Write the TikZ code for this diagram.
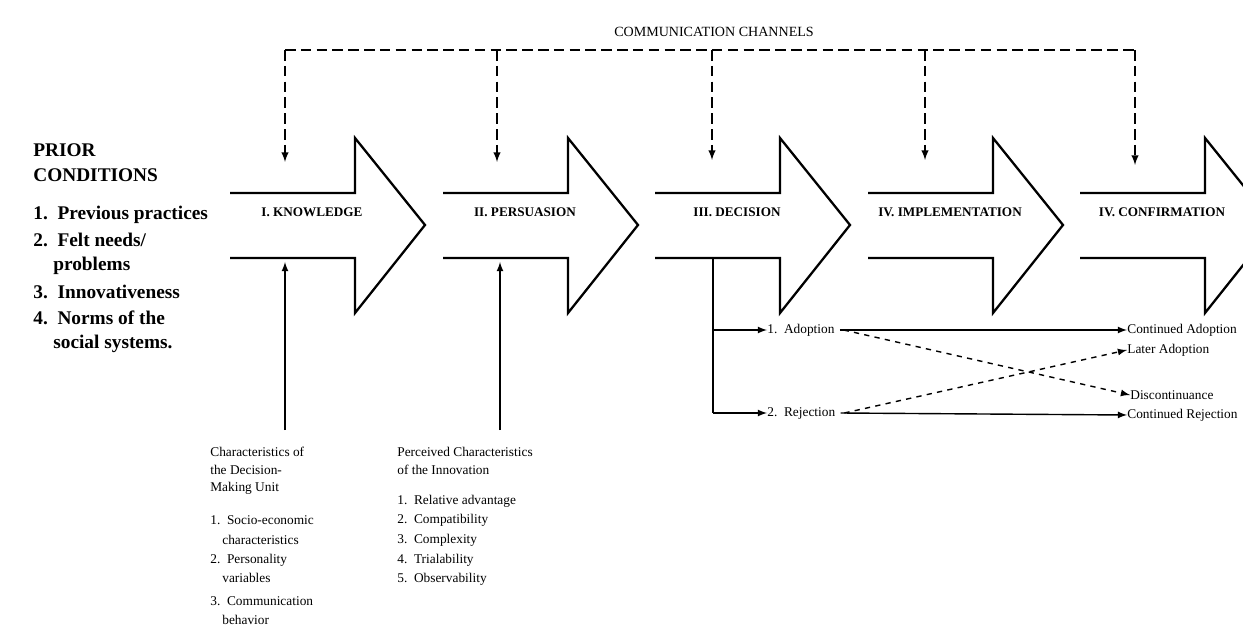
\documentclass[tikz,border=0pt]{standalone}
\usepackage{fontspec}
\setmainfont{Liberation Serif}
\begin{document}
\begin{tikzpicture}[x=0.02cm,y=-0.02cm,
  blk/.style={line width=1.3pt,line join=miter},
  dsh/.style={dashed,line width=0.9pt,dash pattern=on 6pt off 3pt},
  ar/.style={-latex,line width=0.8pt},
  lbl/.style={font=\fontsize{7.5}{8}\selectfont\bfseries,inner sep=0},
  sm/.style={font=\fontsize{7.6}{9}\selectfont,anchor=west,inner sep=0},
  big/.style={font=\fontsize{11}{12}\selectfont\bfseries,anchor=west,inner sep=0}]
\useasboundingbox (0,0) rectangle (1243,638);
\clip (0,0) rectangle (1243,638);
\node[big] at (33,150) {PRIOR};
\node[big] at (33,175) {CONDITIONS};
\node[big] at (33,215) {1.\ \ Previous practices};
\node[big] at (33,240) {2.\ \ Felt needs/};
\node[big] at (53,266) {problems};
\node[big] at (33,292) {3.\ \ Innovativeness};
\node[big] at (33,318) {4.\ \ Norms of the};
\node[big] at (53,344) {social systems.};
\fill[white] (211,200) rectangle (229,230);
\foreach \x/\t/\n in {230/I. KNOWLEDGE/k,443/II. PERSUASION/p,655/III. DECISION/d,868/IV. IMPLEMENTATION/i,1080/IV. CONFIRMATION/c}{
  \draw[blk] (\x,193)--(\x+125,193)--(\x+125,138)--(\x+195,225)--(\x+125,313)--(\x+125,258)--(\x,258);
  \node[lbl] (\n) at (\x+82,212) {\t};
}
\node[font=\fontsize{8}{9}\selectfont,inner sep=0] (cc) at (714,32) {COMMUNICATION CHANNELS};
\coordinate (t1) at (285,50); \coordinate (t5) at (1135,50);
\draw[dsh] (t1)--(t5);
\foreach \x/\y in {285/162,497/162,712/160,925/160,1135/165}{
  \draw[dsh,-latex] (\x,50)--(\x,\y);
}
\coordinate (u1) at (285,430); \coordinate (u2) at (500,430);
\draw[ar] (u1)--(285,262);
\draw[ar] (u2)--(500,262);
\node[sm] at (210,452) {Characteristics of};
\node[sm] at (210,470) {the Decision-};
\node[sm] at (210,488) {Making Unit};
\node[sm] at (210,520) {1.\ \ Socio-economic};
\node[sm] at (222,540) {characteristics};
\node[sm] at (210,560) {2.\ \ Personality};
\node[sm] at (222,578) {variables};
\node[sm] at (210,601) {3.\ \ Communication};
\node[sm] at (222,620) {behavior};
\node[sm] at (397,452) {Perceived Characteristics};
\node[sm] at (397,470) {of the Innovation};
\node[sm] at (397,501) {1.\ \ Relative advantage};
\node[sm] at (397,520) {2.\ \ Compatibility};
\node[sm] at (397,540) {3.\ \ Complexity};
\node[sm] at (397,560) {4.\ \ Trialability};
\node[sm] at (397,579) {5.\ \ Observability};
\coordinate (b0) at (713,258); \coordinate (b1) at (713,330); \coordinate (b2) at (713,413);
\draw[line width=0.8pt] (b0)--(b2);
\node[sm] (ad) at (767,330) {1.\ \ Adoption};
\node[sm] (rj) at (767,413) {2.\ \ Rejection};
\draw[ar] (b1)--(ad.west);
\draw[ar] (b2)--(rj.west);
\node[sm] (ca) at (1127,330) {Continued Adoption};
\node[sm] (la) at (1127,350) {Later Adoption};
\node[sm] (dc) at (1130,395) {Discontinuance};
\node[sm] (cr) at (1127,415) {Continued Rejection};
\draw[ar] (ad.east)++(5,0)--(ca.west);
\draw[ar,dashed] ([xshift=5pt]ad.east)--(dc.west);
\draw[ar] (rj.east)++(5,0)--(cr.west);
\draw[ar,dashed] ([xshift=5pt]rj.east)--(la.west);
\end{tikzpicture}
\end{document}
